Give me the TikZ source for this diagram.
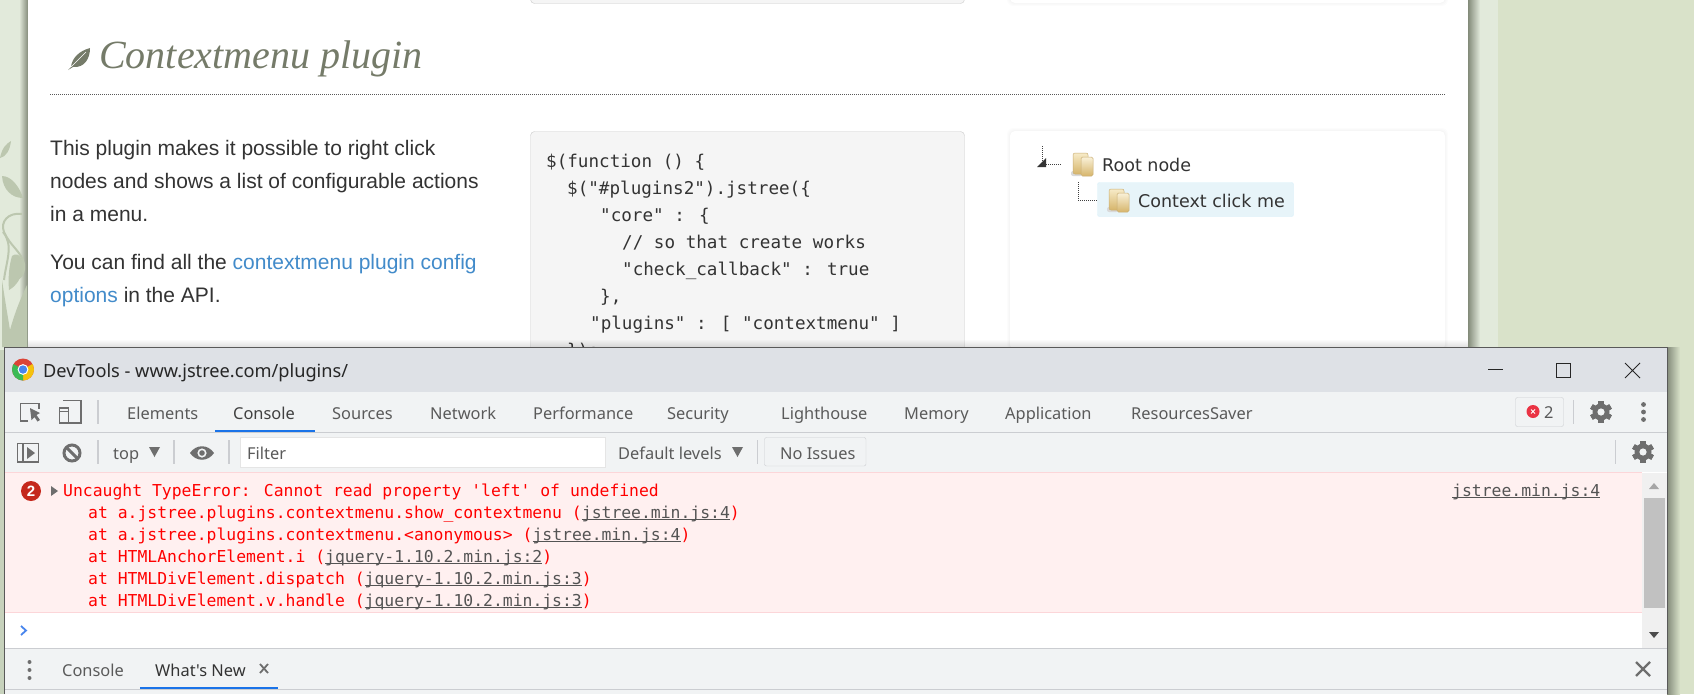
\documentclass[tikz,border=0pt]{standalone}
\usepackage{fontspec}
\setmainfont{Liberation Sans}
\newfontfamily\titlefont{Liberation Serif}
\newfontfamily\codefont{DejaVu Sans Mono}
\newfontfamily\treefont{DejaVu Sans}
\newfontfamily\uifont{Noto Sans}
\newcommand{\srclink}[1]{\setbox0\hbox{#1}{\color{linkgray}\rlap{\rule[-2pt]{\wd0}{1pt}}\box0}}
\definecolor{leafbg}{HTML}{E2EADB}
\definecolor{pagebg}{HTML}{D9E2C9}
\definecolor{leafgray}{HTML}{BCC7AF}
\definecolor{titlegray}{HTML}{757B69}
\definecolor{bodygray}{HTML}{333333}
\definecolor{linkblue}{HTML}{428BCA}
\definecolor{codefill}{HTML}{F5F5F5}
\definecolor{codeline}{HTML}{CCCCCC}
\definecolor{hoverfill}{HTML}{E7F4F9}
\definecolor{hoverline}{HTML}{D8F0FA}
\definecolor{foldertop}{HTML}{F7EBC8}
\definecolor{folderlow}{HTML}{D6B56B}
\definecolor{folderline}{HTML}{C9AE74}
\definecolor{barfill}{HTML}{DEE1E6}
\definecolor{toolfill}{HTML}{F1F3F4}
\definecolor{toolline}{HTML}{CBCDD1}
\definecolor{tabgray}{HTML}{5A5A5A}
\definecolor{icongray}{HTML}{6E6E6E}
\definecolor{tabblue}{HTML}{1A73E8}
\definecolor{errfill}{HTML}{FFF0F0}
\definecolor{errline}{HTML}{FCD6D9}
\definecolor{errred}{HTML}{FF0000}
\definecolor{badgered}{HTML}{C5281C}
\definecolor{countred}{HTML}{EA3344}
\definecolor{linkgray}{HTML}{545454}
\definecolor{thumbgray}{HTML}{C1C1C1}
\definecolor{chromered}{HTML}{DB4437}
\definecolor{chromeyellow}{HTML}{F4C20D}
\definecolor{chromegreen}{HTML}{3CBA54}
\definecolor{chromeblue}{HTML}{4885ED}
\tikzset{
  bodytext/.style={anchor=base west, inner sep=0pt, text=bodygray, font=\fontsize{21}{21}\selectfont},
  codetext/.style={anchor=base west, inner sep=0pt, text=bodygray, font=\codefont\fontsize{17.6}{18}\selectfont},
  treetext/.style={anchor=base west, inner sep=0pt, text=bodygray, font=\treefont\fontsize{17.5}{18}\selectfont},
  tabtext/.style={anchor=base west, inner sep=0pt, text=tabgray, font=\uifont\fontsize{16.4}{18}\selectfont},
  errtext/.style={anchor=base west, inner sep=0pt, text=errred, font=\codefont\fontsize{16.4}{18}\selectfont},
  sepline/.style={toolline, line width=1.3pt},
  iconline/.style={icongray, line width=1.6pt},
  dotline/.style={black!75, line width=1pt, dash pattern=on 1pt off 1pt},
  capline/.style={black!85, line width=1pt}
}
\newcommand{\foldericon}[2]{
  \fill[black!15, rounded corners=2pt] (#1+1,#2+20) rectangle (#1+12,#2+25);
  \shade[top color=foldertop, bottom color=folderlow, rounded corners=2pt, draw=folderline, line width=.5pt] (#1+3,#2+2) rectangle (#1+18,#2+23);
  \shade[top color=foldertop!70!white, bottom color=folderlow, rounded corners=1.5pt, draw=folderline, line width=.5pt] (#1+11,#2+6) rectangle (#1+23,#2+25);
}
\newcommand{\gearicon}[2]{
  \foreach \a in {0,60,...,300}
    \fill[icongray, rotate around={\a:(#1,#2)}] (#1-2.6,#2-11) rectangle (#1+2.6,#2+11);
  \fill[icongray] (#1,#2) circle (8.5);
  \fill[toolfill] (#1,#2) circle (3.6);
}
\begin{document}
\begin{tikzpicture}[x=1pt, y=-1pt]
\useasboundingbox (0,0) rectangle (1694,694);

\fill[pagebg] (0,0) rectangle (1694,694);
\fill[leafbg] (0,0) rectangle (28,694);
\fill[leafbg] (1468,0) rectangle (1498,694);

% shadows of the page
\shade[left color=leafbg, right color=black!30!leafgray] (19,0) rectangle (28,347);
\shade[left color=black!30!leafgray, right color=leafbg] (1468,0) rectangle (1480,347);

% vines on the left strip
\fill[leafgray] (0,158) .. controls (2,148) and (6,144) .. (11,141) .. controls (10,150) and (6,157) .. (0,158);
\fill[leafgray] (2,176) .. controls (12,176) and (20,188) .. (23,198) .. controls (12,198) and (3,190) .. (2,176);
\draw[leafgray, line width=2pt] (22,214) .. controls (8,212) and (0,222) .. (4,232) .. controls (10,246) and (22,252) .. (24,264) .. controls (26,278) and (14,284) .. (10,272);
\draw[leafgray, line width=2pt] (3,232) .. controls (14,245) and (6,262) .. (4,280);
\fill[leafgray] (12,256) .. controls (20,250) and (24,262) .. (23,270) .. controls (20,282) and (13,288) .. (9,290) .. controls (8,278) and (9,266) .. (12,256);
\fill[leafgray] (2,280) .. controls (5,300) and (8,318) .. (10,330) .. controls (14,316) and (18,304) .. (27,285) -- (27,347) -- (2,347) -- cycle;
\fill[leafgray!70!leafbg] (0,350) rectangle (5,694);

\fill[white] (28,0) rectangle (1468,347);

\node[anchor=base west, inner sep=0pt, text=titlegray, font=\titlefont\itshape\fontsize{40}{40}\selectfont] (titlelabel) at (99,68) {Contextmenu plugin};
\fill[titlegray] (68,70) -- (71,67) .. controls (72,58) and (79,51) .. (90,48) .. controls (90,58) and (85,68) .. (73,67) -- cycle;
\draw[white, line width=.5pt] (71,67) -- (86,52);
\draw[black!65, line width=1pt, dash pattern=on 1pt off 1pt] (50,94.5) -- (1445,94.5);

\node[bodytext] (introa) at (50,155) {This plugin makes it possible to right click};
\node[bodytext] (introb) at (50,188) {nodes and shows a list of configurable actions};
\node[bodytext] (introc) at (50,221) {in a menu.};
\node[bodytext] (findera) at (50,269) {You can find all the \textcolor{linkblue}{contextmenu plugin config}};
\node[bodytext] (finderb) at (50,302) {\textcolor{linkblue}{options} in the API.};

% code boxes
\draw[codeline, fill=codefill, rounded corners=4pt] (530.5,-10) rectangle (964.5,3.5);
\draw[codeline, fill=codefill, rounded corners=4pt] (530.5,131.5) rectangle (964.5,380);
\node[codetext] (codea) at (546,167) {\$(function () \{};
\node[codetext] (codeb) at (567,194) {\$("\#plugins2").jstree(\{};
\node[codetext] (codec) at (600,221) {"core" : \{};
\node[codetext] (coded) at (622,248) {// so that create works};
\node[codetext] (codee) at (622,275) {"check\_callback" : true};
\node[codetext] (codef) at (600,302) {\},};
\node[codetext] (codeg) at (590,329) {"plugins" : [ "contextmenu" ]};
\node[codetext] (codeh) at (567,356) {\});};

% tree box
\foreach \s in {1,2,3}
  \fill[black, opacity=.012, rounded corners=6pt] (1010-\s,-10) rectangle (1445+\s,3+\s);
\foreach \s in {1,2,3}
  \fill[black, opacity=.012, rounded corners=6pt] (1010-\s,131-\s) rectangle (1445+\s,350);
\fill[white, rounded corners=5pt] (1010,-10) rectangle (1445,3);
\fill[white, rounded corners=5pt] (1010,131) rectangle (1445,350);

\draw[dotline] (1042,146) -- (1042,163);
\draw[dotline] (1046,164) -- (1061,164);
\fill[black!80] (1037,167) -- (1046,158) -- (1046,167) -- cycle;
\foldericon{1070}{151}
\node[treetext] (rootlabel) at (1102,171) {Root node};
\draw[dotline] (1078,182) -- (1078,200) -- (1097,200);
\draw[hoverline, fill=hoverfill, rounded corners=2pt] (1097.5,182.5) rectangle (1293.5,216.5);
\foldericon{1106}{187}
\node[treetext] (clicklabel) at (1138,207) {Context click me};

% soft edge above the devtools window
\foreach \d in {0,...,7}
  \fill[black, opacity=.015] (28,340+\d) rectangle (1468,347);

% devtools window
\shade[left color=black!30!leafgray, right color=pagebg] (1667,347) rectangle (1680,694);
\fill[white] (5,348) rectangle (1667,694);
\fill[barfill] (5,348) rectangle (1667,392);
\fill[toolfill] (5,392) rectangle (1667,472);
\draw[toolline] (5,432.5) -- (1667,432.5);
\draw[black!65, line width=1pt] (4.5,694) -- (4.5,347.5) -- (1667.5,347.5) -- (1667.5,694);

% chrome logo
\begin{scope}
\clip (23,369.5) circle (11);
\fill[chromered] (12,358) rectangle (34,381);
\fill[chromeyellow] (23,369.5) -- (42,358.5) -- (45,392) -- (23,392) -- cycle;
\fill[chromegreen] (23,369.5) -- (23,392) -- (1,392) -- (4,358.5) -- cycle;
\end{scope}
\fill[white] (23,369.5) circle (5.4);
\fill[chromeblue] (23,369.5) circle (4.2);

\node[anchor=base west, inner sep=0pt, text=black!85, font=\uifont\fontsize{18.2}{18}\selectfont] (devtitle) at (43,377) {DevTools - www.jstree.com/plugins/};
\draw[capline] (1488,369.5) -- (1503,369.5);
\draw[capline] (1556.5,363.5) rectangle (1570.5,377.5);
\draw[capline] (1625,363) -- (1640,378) (1625,378) -- (1640,363);

% inspect and device icons
\draw[iconline] (28,421) -- (20.5,421) -- (20.5,403.5) -- (39,403.5) -- (39,409);
\fill[icongray] (30,408) -- (40,413) -- (36.5,415) -- (40,420) -- (37.5,421.5) -- (34.5,417) -- (31.5,420) -- cycle;
\draw[iconline] (63,400.5) -- (81,400.5) -- (81,423) -- (69,423);
\draw[iconline, fill=toolfill] (59.5,408) rectangle (68.5,423);
\draw[iconline] (59.5,411.5) -- (68.5,411.5);
\draw[sepline] (98,400) -- (98,424);

\node[tabtext] (elementstab) at (127,419) {Elements};
\node[tabtext, text=black!75] (consoletab) at (233,419) {Console};
\fill[tabblue] (215,430) rectangle (315,432);
\node[tabtext] (sourcestab) at (332,419) {Sources};
\node[tabtext] (networktab) at (430,419) {Network};
\node[tabtext] (performancetab) at (533,419) {Performance};
\node[tabtext] (securitytab) at (667,419) {Security};
\node[tabtext] (lighthousetab) at (781,419) {Lighthouse};
\node[tabtext] (memorytab) at (904,419) {Memory};
\node[tabtext] (applicationtab) at (1005,419) {Application};
\node[tabtext] (savertab) at (1131,419) {ResourcesSaver};

\draw[toolline, rounded corners=2pt] (1515.5,397.5) rectangle (1563.5,426.5);
\fill[countred] (1533,411.5) circle (6.5);
\draw[white, line width=1pt] (1531,409.5) -- (1535,413.5) (1531,413.5) -- (1535,409.5);
\node[tabtext, text=black!65] (counttext) at (1544,418) {2};
\draw[sepline] (1573.5,400) -- (1573.5,424);
\gearicon{1601}{412}
\fill[icongray] (1643.5,404.5) circle (2.4) (1643.5,412) circle (2.4) (1643.5,419.5) circle (2.4);

% second toolbar
\draw[iconline] (17.5,443.5) rectangle (38.5,462);
\draw[iconline] (23,443.5) -- (23,462);
\fill[icongray] (27,447) -- (35,453) -- (27,459) -- cycle;
\draw[icongray, line width=3pt] (72,453) circle (8);
\draw[icongray, line width=3pt] (66.5,447.5) -- (77.5,458.5);
\draw[sepline] (98,440) -- (98,464);
\node[tabtext] (toplabel) at (113,459) {top};
\fill[icongray] (149,447) -- (160,447) -- (154.5,457) -- cycle;
\draw[sepline] (174,440) -- (174,464);
\fill[icongray] (190,453) .. controls (196,444) and (208,444) .. (214,453) .. controls (208,462) and (196,462) .. (190,453) -- cycle;
\fill[toolfill] (202,453) circle (4.6);
\fill[icongray] (202,453) circle (2.8);
\draw[sepline] (229,440) -- (229,464);
\draw[black!10, fill=white] (240.5,437.5) rectangle (605,467);
\node[tabtext] (filterlabel) at (247,459) {Filter};
\node[tabtext] (levelslabel) at (618,459) {Default levels};
\fill[icongray] (732,447) -- (743,447) -- (737.5,457) -- cycle;
\draw[toolline] (757,440) -- (757,464);
\draw[toolline, rounded corners=2pt] (764.5,437.5) rectangle (866,466);
\node[tabtext] (issueslabel) at (780,459) {No Issues};
\draw[sepline] (1615.5,440) -- (1615.5,464);
\gearicon{1643}{452}

% console messages
\fill[errfill] (5,473) rectangle (1642,612);
\draw[errline] (5,472.5) -- (1642,472.5);
\draw[errline] (5,612.5) -- (1642,612.5);
\fill[badgered] (31,491) circle (10);
\node[anchor=center, inner sep=0pt, text=white, font=\bfseries\fontsize{15}{15}\selectfont] (countbadge) at (31,491) {2};
\fill[icongray] (51,486) -- (58,491) -- (51,496) -- cycle;
\node[errtext] (erra) at (63,496) {Uncaught TypeError: Cannot read property 'left' of undefined};
\node[errtext] (errb) at (88,518) {at a.jstree.plugins.contextmenu.show\_contextmenu (\srclink{jstree.min.js:4})};
\node[errtext] (errc) at (88,540) {at a.jstree.plugins.contextmenu.<anonymous> (\srclink{jstree.min.js:4})};
\node[errtext] (errd) at (88,562) {at HTMLAnchorElement.i (\srclink{jquery-1.10.2.min.js:2})};
\node[errtext] (erre) at (88,584) {at HTMLDivElement.dispatch (\srclink{jquery-1.10.2.min.js:3})};
\node[errtext] (errf) at (88,606) {at HTMLDivElement.v.handle (\srclink{jquery-1.10.2.min.js:3})};
\node[errtext] (sourcelink) at (1452,496) {\srclink{jstree.min.js:4}};

% scrollbar
\fill[black!6] (1642,473) rectangle (1667,648);
\fill[thumbgray] (1644,498) rectangle (1665,608);
\fill[black!35] (1649,489) -- (1659,489) -- (1654,483) -- cycle;
\fill[black!70] (1649,632) -- (1659,632) -- (1654,638) -- cycle;
\draw[chromeblue, line width=1.8pt] (21,626) -- (26,630.5) -- (21,635);

% drawer
\fill[toolfill] (5,649) rectangle (1667,694);
\draw[toolline] (5,648.5) -- (1667,648.5);
\draw[toolline] (5,689.5) -- (1667,689.5);
\fill[icongray] (29.5,662) circle (2) (29.5,670) circle (2) (29.5,678) circle (2);
\node[tabtext] (drawerconsole) at (62,676) {Console};
\node[tabtext, text=black!80] (drawernew) at (155,676) {What's New};
\draw[icongray, line width=1.8pt] (260,664) -- (268,673) (260,673) -- (268,664);
\fill[tabblue] (140,687) rectangle (278,689);
\draw[icongray, line width=2.4pt] (1636,662) -- (1650,676) (1636,676) -- (1650,662);
\draw[black!65, line width=1pt] (4.5,347.5) -- (4.5,694);
\draw[black!65, line width=1pt] (1667.5,347.5) -- (1667.5,694);
\end{tikzpicture}
\end{document}
